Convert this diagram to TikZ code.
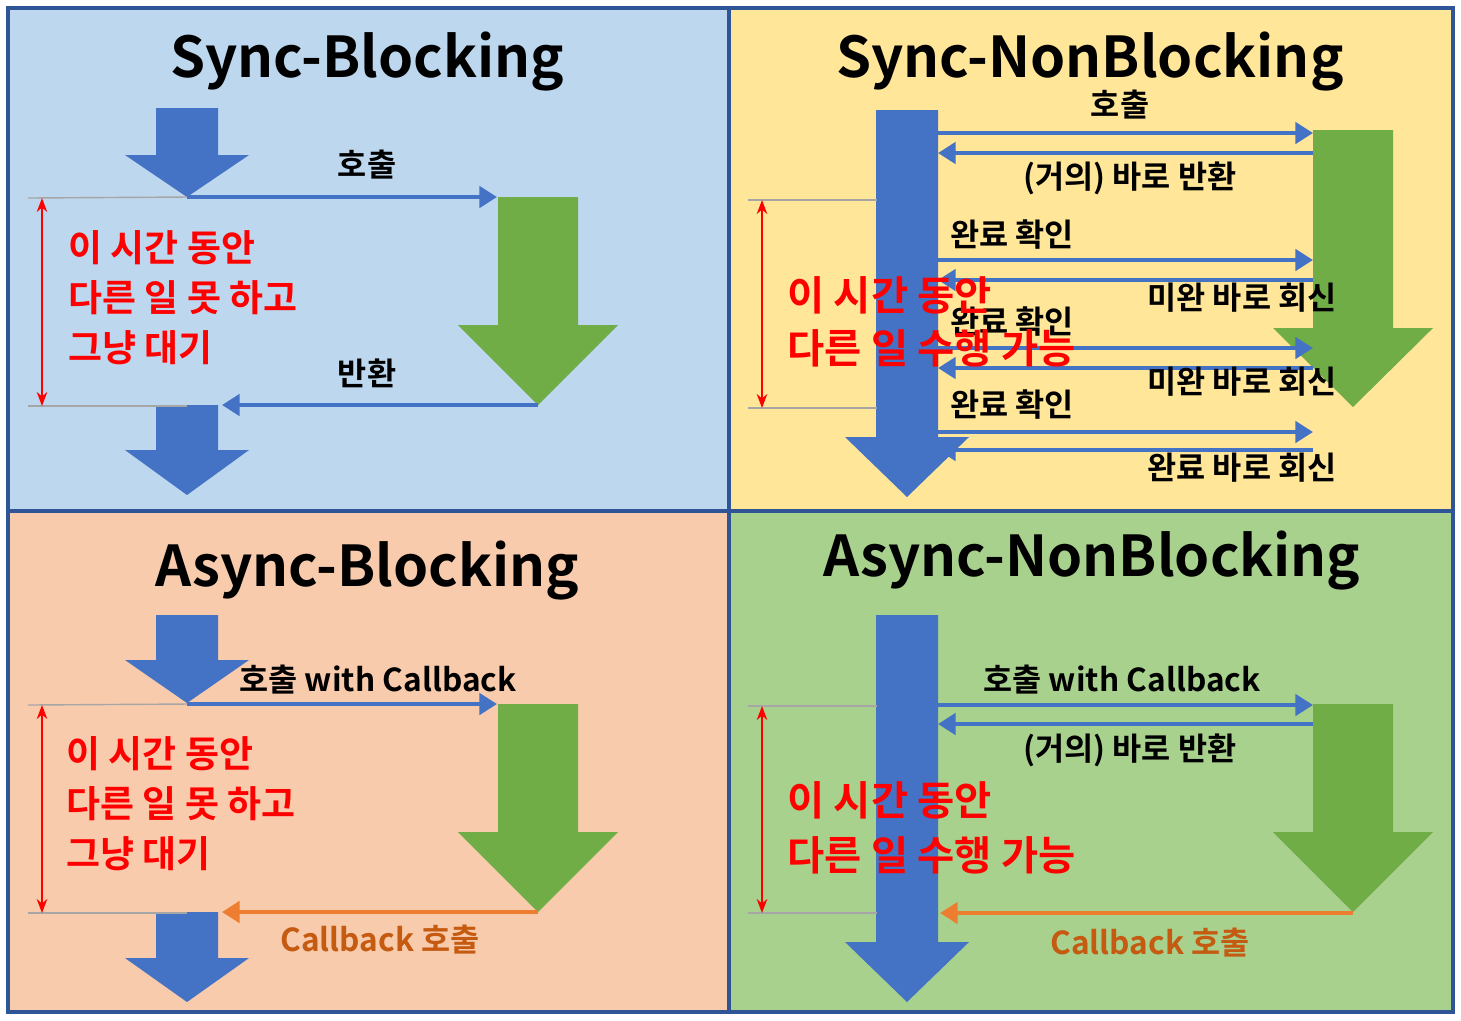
\documentclass[tikz,border=0pt]{standalone}
\usepackage{fontspec}
\setmainfont{Noto Sans CJK KR}[BoldFont={Noto Sans CJK KR Bold}]
\usetikzlibrary{arrows.meta}
\definecolor{bA}{HTML}{BDD7EE}\definecolor{yA}{HTML}{FFE699}
\definecolor{oA}{HTML}{F8CBAD}\definecolor{gA}{HTML}{A9D18E}
\definecolor{frm}{HTML}{2F5597}\definecolor{blu}{HTML}{4472C4}
\definecolor{grn}{HTML}{70AD47}\definecolor{org}{HTML}{ED7D31}
\definecolor{orgt}{HTML}{C55A11}
\newcommand\darr[7]{% color, xc, shaft half, top, headtop, headhalf, tip
\fill[#1] ({#2-#3},#4) -- ({#2+#3},#4) -- ({#2+#3},#5) -- ({#2+#6},#5) -- (#2,#7) -- ({#2-#6},#5) -- ({#2-#3},#5) -- cycle;}
\tikzset{
 ttl/.style={font=\fontsize{16}{20}\selectfont\bfseries},
 lbl/.style={font=\fontsize{9}{11}\selectfont\bfseries},
 rtx/.style={font=\fontsize{10.5}{13}\selectfont\bfseries,text=red,anchor=west},
 rtxb/.style={font=\fontsize{11.5}{14}\selectfont\bfseries,text=red,anchor=west},
 call/.style={blu,line width=1.2pt,-{Triangle[length=5pt,width=6pt]}},
 cb/.style={org,line width=1.2pt,-{Triangle[length=5pt,width=6pt]}},
 guide/.style={gray!70,line width=0.4pt},
 brk/.style={red,line width=0.5pt,{Stealth[length=4pt]}-{Stealth[length=4pt]}},
}
\begin{document}
\begin{tikzpicture}[x=0.01cm,y=-0.01cm]
\useasboundingbox (0,0) rectangle (1461,1020);
\fill[white] (0,0) rectangle (1461,1020);
\fill[bA] (8,8) rectangle (729,511);
\fill[yA] (729,8) rectangle (1453,511);
\fill[oA] (8,511) rectangle (729,1012);
\fill[gA] (729,511) rectangle (1453,1012);
\draw[frm,line width=1.2pt] (8,8) rectangle (1453,1012) (729,8) -- (729,1012) (8,511) -- (1453,511);
% ---------- TL
\node[ttl] (t1) at (367,62) {Sync-Blocking};
\darr{blu}{187}{31}{108}{155}{62}{197}
\darr{grn}{538}{40}{197}{325}{80}{405}
\darr{blu}{187}{31}{405}{450}{62}{495}
\coordinate (a1) at (187,197); \coordinate (a2) at (497,197);
\coordinate (a3) at (538,405); \coordinate (a4) at (222,405);
\draw[call] (a1) -- (a2); \node[lbl] (l1) at (367,165) {호출};
\draw[call] (a3) -- (a4); \node[lbl] (l2) at (367,373) {반환};
\coordinate (g1) at (28,198); \coordinate (g2) at (28,406);
\draw[guide] (g1) -- (a1); \draw[guide] (g2) -- (187,406);
\draw[brk] (42,198) -- (42,406);
\node[rtx] (r1) at (56,248) {이 시간 동안};
\node[rtx] (r2) at (56,298) {다른 일 못 하고};
\node[rtx] (r3) at (56,348) {그냥 대기};
% ---------- TR
\node[ttl] (t2) at (1090,62) {Sync-NonBlocking};
\darr{blu}{907}{31}{110}{437}{62}{497}
\darr{grn}{1353}{40}{130}{328}{80}{407}
\foreach \y/\n in {133/p1,260/p2,348/p3,432/p4}{\coordinate (\n a) at (938,\y); \coordinate (\n b) at (1313,\y); \draw[call] (\n a) -- (\n b);}
\foreach \y/\n in {153/q1,280/q2,368/q3,450/q4}{\coordinate (\n a) at (1313,\y); \coordinate (\n b) at (938,\y); \draw[call] (\n a) -- (\n b);}
\node[lbl] (m1) at (1120,105) {호출};
\node[lbl] (m2) at (1130,178) {(거의) 바로 반환};
\node[lbl] (m3) at (1012,235) {완료 확인};
\node[lbl] (m4) at (1242,298) {미완 바로 회신};
\node[lbl] (m5) at (1012,322) {완료 확인};
\node[lbl] (m6) at (1242,382) {미완 바로 회신};
\node[lbl] (m7) at (1012,405) {완료 확인};
\node[lbl] (m8) at (1242,468) {완료 바로 회신};
\draw[guide] (748,200) -- (877,200); \draw[guide] (748,408) -- (877,408);
\draw[brk] (762,200) -- (762,408);
\node[rtxb] (r4) at (775,295) {이 시간 동안};
\node[rtxb] (r5) at (775,348) {다른 일 수행 가능};
% ---------- BL
\node[ttl] (t3) at (367,570) {Async-Blocking};
\darr{blu}{187}{31}{615}{660}{62}{703}
\darr{grn}{538}{40}{704}{832}{80}{912}
\darr{blu}{187}{31}{912}{958}{62}{1002}
\coordinate (b1) at (187,704); \coordinate (b2) at (497,704);
\coordinate (b3) at (538,912); \coordinate (b4) at (222,912);
\draw[call] (b1) -- (b2); \node[lbl] (l3) at (378,680) {호출 with Callback};
\draw[cb] (b3) -- (b4); \node[lbl,text=orgt] (l4) at (380,940) {Callback 호출};
\draw[guide] (28,705) -- (b1); \draw[guide] (28,913) -- (187,913);
\draw[brk] (42,705) -- (42,913);
\node[rtx] (r6) at (54,754) {이 시간 동안};
\node[rtx] (r7) at (54,804) {다른 일 못 하고};
\node[rtx] (r8) at (54,854) {그냥 대기};
% ---------- BR
\node[ttl] (t4) at (1092,560) {Async-NonBlocking};
\darr{blu}{907}{31}{615}{942}{62}{1002}
\darr{grn}{1353}{40}{704}{832}{80}{912}
\coordinate (c1) at (938,705); \coordinate (c2) at (1313,705);
\coordinate (c3) at (1313,724); \coordinate (c4) at (938,724);
\coordinate (c5) at (1353,913); \coordinate (c6) at (940,913);
\draw[call] (c1) -- (c2); \draw[call] (c3) -- (c4); \draw[cb] (c5) -- (c6);
\node[lbl] (m9) at (1122,680) {호출 with Callback};
\node[lbl] (m10) at (1130,750) {(거의) 바로 반환};
\node[lbl,text=orgt] (m11) at (1150,943) {Callback 호출};
\draw[guide] (748,706) -- (877,706); \draw[guide] (748,913) -- (877,913);
\draw[brk] (762,706) -- (762,913);
\node[rtxb] (r9) at (775,800) {이 시간 동안};
\node[rtxb] (r10) at (775,855) {다른 일 수행 가능};
\end{tikzpicture}
\end{document}
